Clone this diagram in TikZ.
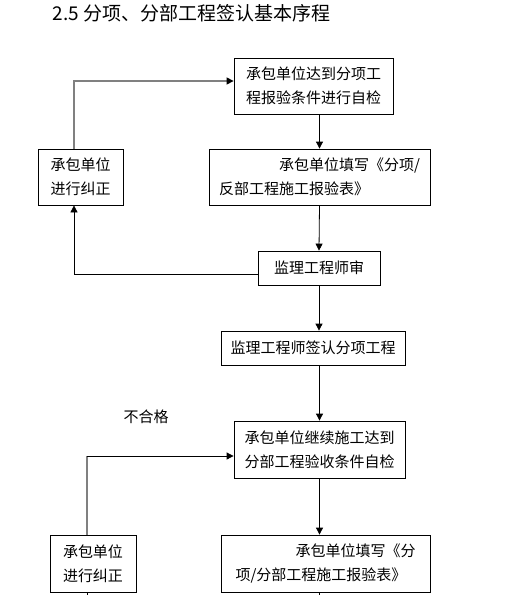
\documentclass[tikz,border=0pt]{standalone}
\usepackage{fontspec}
\setmainfont{Noto Sans CJK SC}
\usetikzlibrary{arrows.meta}

\tikzset{
	box/.style={draw, line width=0.8pt, inner sep=0pt, align=left, font=\fontsize{15pt}{24pt}\selectfont},
	flow/.style={line width=0.8pt, -{Triangle[length=7pt,width=7pt,color=black]}},
	back/.style={draw=gray, line width=1.2pt},
}

\begin{document}
\begin{tikzpicture}[x=1pt,y=-1pt]
	\useasboundingbox (0,0) rectangle (509,595);

	\node [anchor=west, font=\fontsize{19pt}{22pt}\selectfont] (title) at (49,13) {2.5 分项、分部工程签认基本序程};
	\node [box, minimum width=159pt, minimum height=56pt] (check) at (313.5,86) {承包单位达到分项工\\程报验条件进行自检};
	\node [box, minimum width=221pt, minimum height=56pt] (form) at (319.5,177) {\hspace*{4em}承包单位填写《分项/\\反部工程施工报验表》};
	\node [box, minimum width=85pt, minimum height=56pt] (fix) at (80.5,177) {承包单位\\进行纠正};
	\node [box, minimum width=122pt, minimum height=34pt] (review) at (319,268) {监理工程师审};
	\node [box, minimum width=184pt, minimum height=34pt] (sign) at (313,348) {监理工程师签认分项工程};
	\node [font=\fontsize{15pt}{18pt}\selectfont] (fail) at (146,417) {不合格};
	\node [box, minimum width=171pt, minimum height=57pt] (cont) at (319.5,449.5) {承包单位继续施工达到\\分部工程验收条件自检};
	\node [box, minimum width=209pt, minimum height=57pt] (form2) at (325.5,563.5) {\hspace*{4em}承包单位填写《分\\项/分部工程施工报验表》};
	\node [box, minimum width=86pt, minimum height=57pt] (fix2) at (93,563.5) {承包单位\\进行纠正};

	\coordinate (endfix) at (87,595);
	\coordinate (endform) at (319,595);
	\path ([yshift=-6.5pt]cont.west) coordinate (in2);
	\path ([xshift=-6pt]fix2.north) coordinate (up2);
	\coordinate (turn2) at (up2 |- in2);

	\draw [flow] (check.south -| form.north) -- (form.north);
	\draw [flow] (form.south) -- (review.north);
	\draw [flow] ([yshift=-6pt]review.west) -| ([xshift=-6.5pt]fix.south);
	\draw [flow, back] ([xshift=-6.5pt]fix.north) |- ([yshift=5pt]check.west);
	\draw [flow] (review.south) -- (review.south |- sign.north);
	\draw [flow] (sign.south -| cont.north) -- (cont.north);
	\draw [flow] (cont.south) -- (cont.south |- form2.north);
	\draw [back] (up2) -- (turn2);
	\draw [flow] (turn2) -- (in2);
	\draw [line width=0.8pt] (endfix |- fix2.south) -- (endfix);
	\draw [line width=0.8pt] (endform |- form2.south) -- (endform);

\end{tikzpicture}
\end{document}
